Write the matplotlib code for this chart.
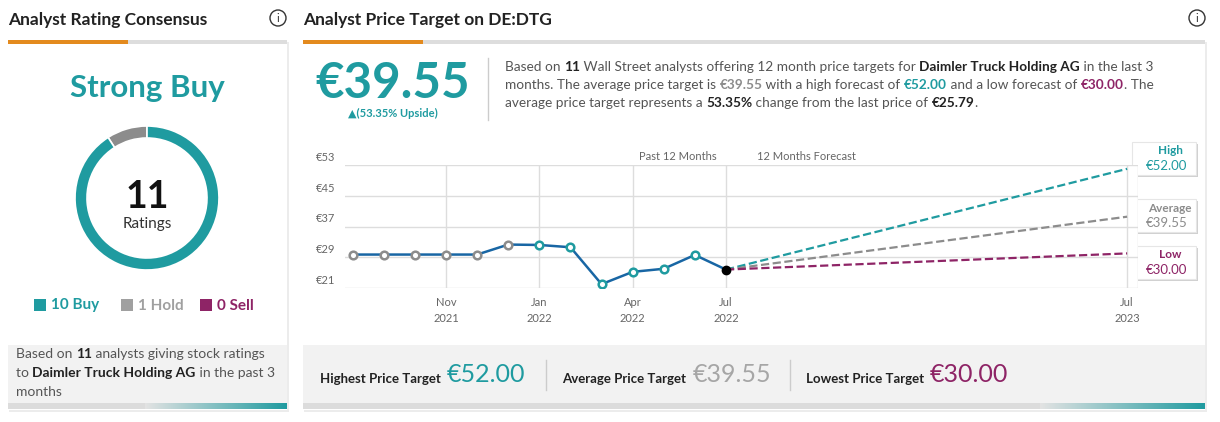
import matplotlib
matplotlib.use("Agg")
import matplotlib.pyplot as plt
from matplotlib.patches import Rectangle, Wedge, Circle
from matplotlib.colors import LinearSegmentedColormap
import numpy as np

# ---- data ----
ratings_labels = ["Buy", "Hold", "Sell"]
ratings_counts = [10, 1, 0]
past_prices = [29.7, 29.7, 29.7, 29.7, 29.7, 32.3, 32.2, 31.6, 22.0, 25.2, 26.0, 29.6, 25.79]
past_x = list(range(13))
forecast_x = 24.9
targets = {"High": 52.00, "Average": 39.55, "Low": 30.00}
last_price = 25.79
y_ticks = [21, 29, 37, 45, 53]
x_tick_pos = [3, 6, 9, 12, 24.9]
x_tick_labels = ["Nov\n2021", "Jan\n2022", "Apr\n2022", "Jul\n2022", "Jul\n2023"]

TEAL = "#1f9ba0"; GREY = "#8c8c8c"; MAG = "#8e2466"; BLUE = "#1866a4"
ORANGE = "#e38a1e"; DARK = "#222222"; TXT = "#555555"
plt.rcParams["font.family"] = ["Lato", "DejaVu Sans"]

W, H = 1220, 422
fig = plt.figure(figsize=(W/100, H/100), dpi=100)
fig.patch.set_facecolor("white")
bg = fig.add_axes([0, 0, 1, 1])
bg.set_xlim(0, W); bg.set_ylim(H, 0); bg.axis("off")
renderer = fig.canvas.get_renderer()

def rect(x0, y0, x1, y1, color, z=0):
    bg.add_patch(Rectangle((x0, y0), x1-x0, y1-y0, facecolor=color, edgecolor="none", zorder=z))

def gradient(x0, x1, y0, y1):
    g = np.linspace(0, 1, 256)[None, :]
    cm = LinearSegmentedColormap.from_list("g", ["#e3e3e3", TEAL])
    bg.imshow(g, extent=(x0, x1, y1, y0), cmap=cm, aspect="auto", zorder=3)

def runs(x, y, parts, size, va="center"):
    for text, weight, color in parts:
        t = bg.text(x, y, text, fontsize=size, fontweight=weight, color=color, va=va, ha="left", zorder=5)
        x += t.get_window_extent(renderer).width

def info(x, y):
    bg.add_patch(Circle((x, y), 8, facecolor="white", edgecolor="#333333", lw=1, zorder=5))
    bg.text(x, y+0.5, "i", fontsize=8, ha="center", va="center", color="#333333", zorder=6)

# ---- cards ----
for x0, x1 in [(8, 287), (303, 1205)]:
    rect(x0+1, 42, x1+2, 412, "#ececec", z=0)
    rect(x0, 40, x1, 410, "white", z=1)
    rect(x0, 40, x1, 44, "#dddddd", z=2)
rect(8, 40, 128, 44, ORANGE, z=3)
rect(303, 40, 423, 44, ORANGE, z=3)
rect(8, 345, 287, 403, "#f2f2f2", z=2)
rect(8, 403, 287, 409, "#dcdcdc", z=2)
gradient(145, 287, 403, 409)
rect(303, 345, 1205, 403, "#f2f2f2", z=2)
rect(303, 403, 1205, 409, "#dcdcdc", z=2)
gradient(1040, 1205, 403, 409)

bg.text(8, 20, "Analyst Rating Consensus", fontsize=12.5, fontweight="bold", color=DARK, va="center")
bg.text(303, 20, "Analyst Price Target on DE:DTG", fontsize=12.5, fontweight="bold", color=DARK, va="center")
info(278, 18); info(1197, 18)

# ---- left card ----
bg.text(147, 88, "Strong Buy", fontsize=22.5, fontweight="bold", color=TEAL, ha="center", va="center", zorder=5)
total = sum(ratings_counts)
start = 90
for cnt, col in zip([ratings_counts[1], ratings_counts[0], ratings_counts[2]], [GREY, TEAL, MAG]):
    if cnt == 0:
        continue
    ang = 360 * cnt / total
    bg.add_patch(Wedge((147, 198), 72, -(start+ang), -start, width=12, facecolor=col,
                       edgecolor="white", lw=1.2, zorder=4))
    start += ang
bg.text(147, 197, str(total), fontsize=27, fontweight="bold", color="#111111", ha="center", va="center", zorder=5)
bg.text(147, 224, "Ratings", fontsize=11, color="#333333", ha="center", va="center", zorder=5)
for xs, cnt, lab, col in [(34, ratings_counts[0], "Buy", TEAL), (121, ratings_counts[1], "Hold", "#a0a0a0"),
                          (200, ratings_counts[2], "Sell", MAG)]:
    rect(xs, 299, xs+12, 311, col, z=4)
    bg.text(xs+17, 305.5, f"{cnt} {lab}", fontsize=11, fontweight="bold", color=col, va="center", zorder=5)
runs(16, 354, [("Based on ", "normal", TXT), ("11", "bold", DARK), (" analysts giving stock ratings", "normal", TXT)], 10)
runs(16, 373, [("to ", "normal", TXT), ("Daimler Truck Holding AG", "bold", DARK), (" in the past 3", "normal", TXT)], 10)
runs(16, 392, [("months", "normal", TXT)], 10)

# ---- right header ----
bg.text(393, 84, "€39.55", fontsize=35.5, fontweight="bold", color=TEAL, ha="center", va="center", zorder=5)
bg.text(393, 113, "▲(53.35% Upside)", fontsize=8, fontweight="bold", color=TEAL, ha="center", va="center", zorder=5)
bg.plot([488, 488], [58, 120], color="#cccccc", lw=1, zorder=5)
PS = 9.8
runs(505, 67, [("Based on ", "normal", TXT), ("11", "bold", DARK), (" Wall Street analysts offering 12 month price targets for ", "normal", TXT),
               ("Daimler Truck Holding AG", "bold", DARK), (" in the last 3", "normal", TXT)], PS)
runs(505, 85, [("months. The average price target is ", "normal", TXT), ("€39.55", "bold", GREY), (" with a high forecast of ", "normal", TXT),
               ("€52.00", "bold", TEAL), (" and a low forecast of ", "normal", TXT), ("€30.00", "bold", MAG), (". The", "normal", TXT)], PS)
runs(505, 103, [("average price target represents a ", "normal", TXT), ("53.35%", "bold", DARK), (" change from the last price of ", "normal", TXT),
                ("€25.79", "bold", DARK), (".", "normal", TXT)], PS)

# ---- chart ----
ax = fig.add_axes([345/W, 1-288/H, (1138-345)/W, (288-165)/H])
ax.set_xlim(-0.25, 25.25); ax.set_ylim(21, 53)
for s in ax.spines.values():
    s.set_visible(False)
ax.set_xticks([]); ax.set_yticks([])
for yv in y_ticks:
    ax.axhline(yv, color="#dddddd", lw=1, zorder=0)
    ax.text(-0.55, yv + 2.0, f"€{yv}", fontsize=8, color="#666666", ha="right", va="center", clip_on=False)
for xv, lab in zip(x_tick_pos, x_tick_labels):
    ax.axvline(xv, color="#dddddd", lw=1, zorder=0)
    ax.text(xv, 18.6, lab, fontsize=8, color="#666666", ha="center", va="top", linespacing=1.55, clip_on=False)
ax.axvline(25.25, color="#dddddd", lw=1, zorder=0)
ax.text(10.45, 55.2, "Past 12 Months", fontsize=8, color="#666666", ha="center", va="center", clip_on=False)
ax.text(14.6, 55.2, "12 Months Forecast", fontsize=8, color="#666666", ha="center", va="center", clip_on=False)
ax.plot(past_x, past_prices, color=BLUE, lw=1.8, zorder=3)
for i, (xv, yv) in enumerate(zip(past_x, past_prices)):
    if i == len(past_x) - 1:
        ax.plot(xv, yv, "o", color="black", ms=6, zorder=6)
    else:
        ax.plot(xv, yv, "o", mfc="white", mec=GREY if i < 6 else TEAL, mew=1.8, ms=5.5, zorder=4)
for key, col in [("High", TEAL), ("Average", GREY), ("Low", MAG)]:
    ax.plot([past_x[-1], forecast_x], [last_price, targets[key]], ls="--", color=col, lw=1.6, zorder=2)

# callout boxes
for key, col, yc in [("High", TEAL, 159), ("Average", GREY, 216), ("Low", MAG, 263)]:
    bg.add_patch(Rectangle((1134, yc-15), 64, 33, facecolor="#d0d0d0", edgecolor="none", zorder=4))
    bg.add_patch(Rectangle((1132, yc-17), 64, 33, facecolor="white", edgecolor="#e6e6e6", lw=0.8, zorder=5))
    bg.text(1170, yc-8, key, fontsize=8.5, fontweight="bold", color=col, ha="center", va="center", zorder=6)
    bg.text(1167, yc+7, f"€{targets[key]:.2f}", fontsize=9.5, color=col, ha="center", va="center", zorder=6)

# ---- bottom strip ----
bg.text(320, 379, "Highest Price Target", fontsize=9.5, fontweight="bold", color=DARK, va="center", zorder=5)
bg.text(447, 375, f"€{targets['High']:.2f}", fontsize=18, color=TEAL, va="center", zorder=5)
bg.plot([546, 546], [360, 390], color="#cccccc", lw=1, zorder=5)
bg.text(562, 379, "Average Price Target", fontsize=9.5, fontweight="bold", color=DARK, va="center", zorder=5)
bg.text(693, 375, f"€{targets['Average']:.2f}", fontsize=18, color="#a6a6a6", va="center", zorder=5)
bg.plot([790, 790], [360, 390], color="#cccccc", lw=1, zorder=5)
bg.text(806, 379, "Lowest Price Target", fontsize=9.5, fontweight="bold", color=DARK, va="center", zorder=5)
bg.text(930, 375, f"€{targets['Low']:.2f}", fontsize=18, color=MAG, va="center", zorder=5)

fig.savefig("out.png", dpi=100)
